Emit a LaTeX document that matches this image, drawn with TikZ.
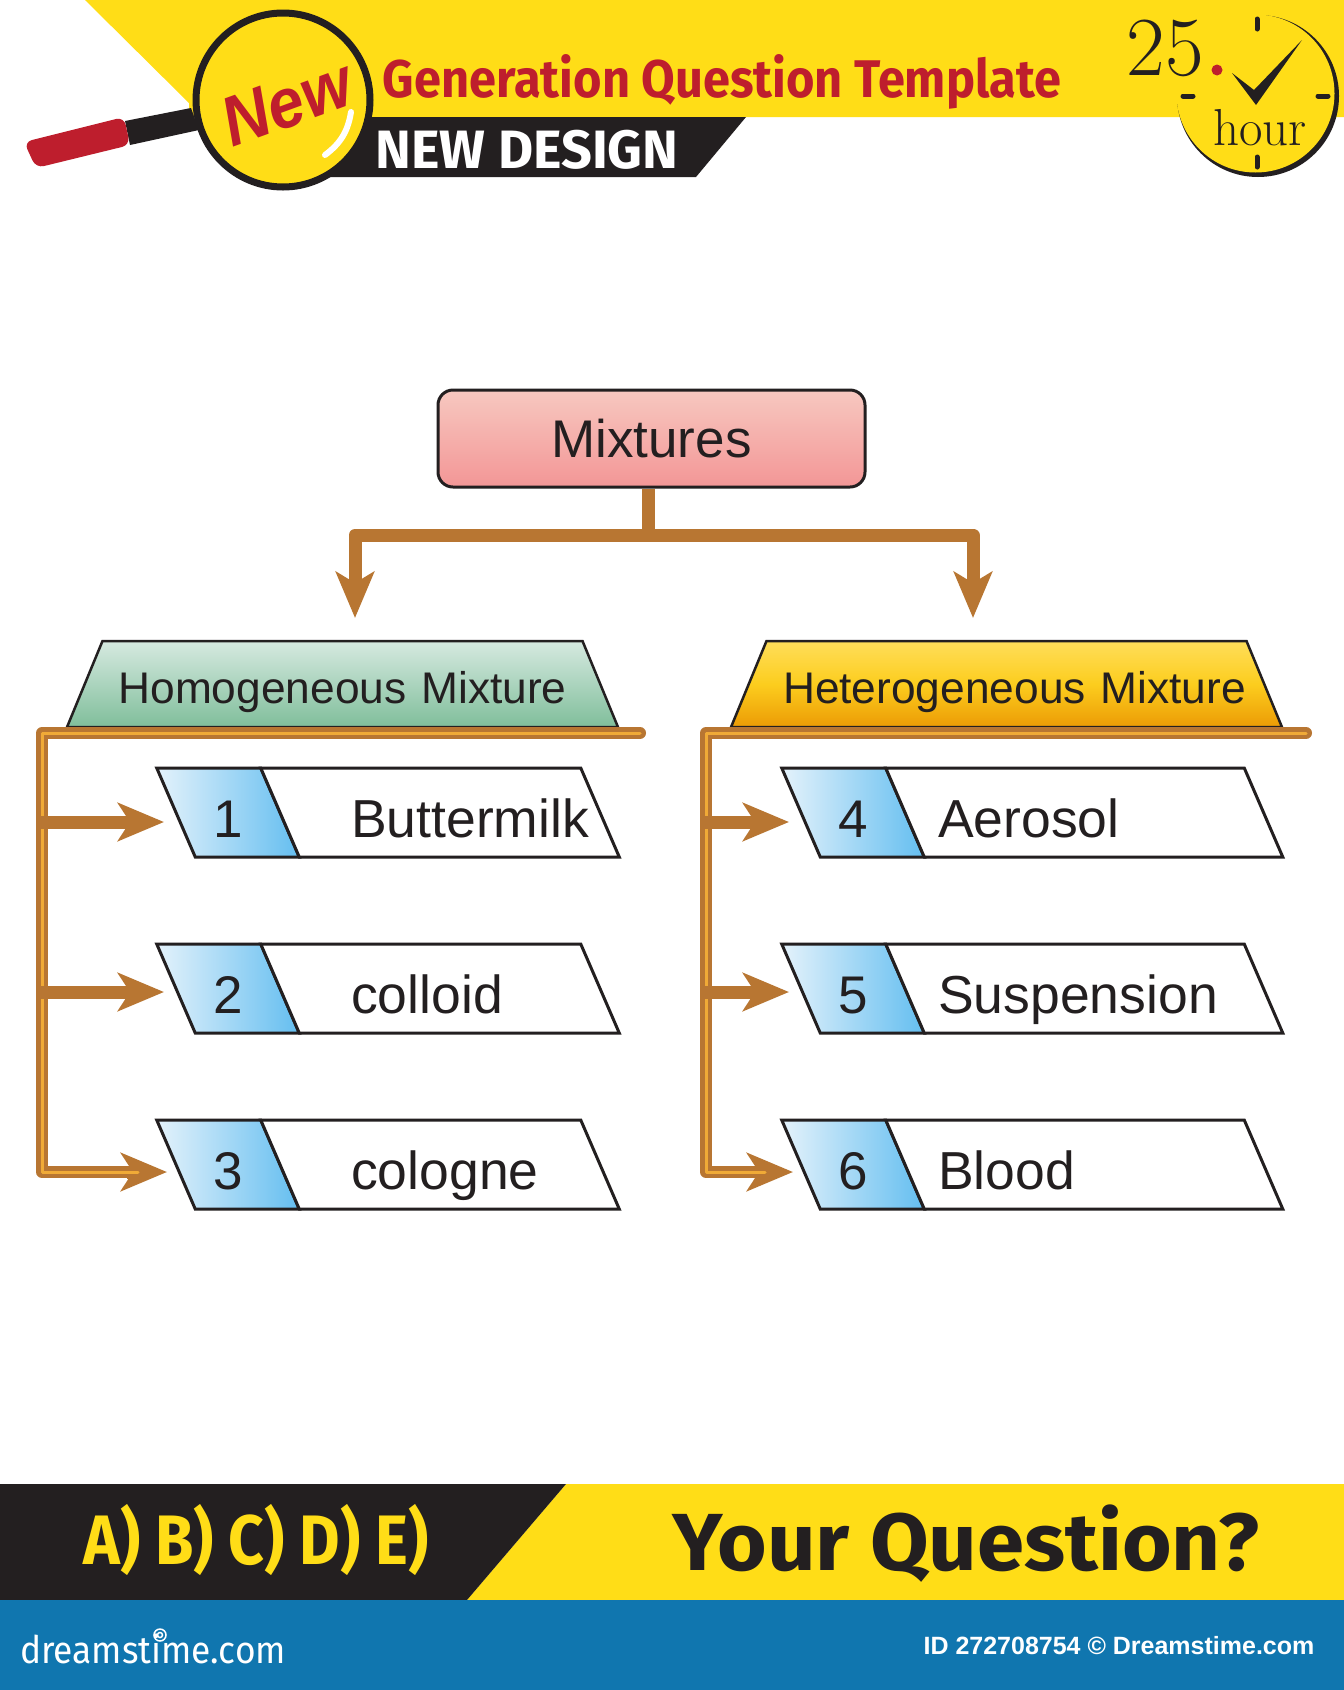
\documentclass[tikz,border=0pt]{standalone}
\usepackage{fontspec}
\usepackage{tikz}
\usetikzlibrary{arrows.meta,positioning,shapes.geometric}
\newfontfamily\arialfont{Liberation Sans}
\newfontfamily\bannerfont{Fira Sans}
\definecolor{duyellow}{RGB}{255,221,23}
\definecolor{duink}{RGB}{35,31,32}
\definecolor{dured}{RGB}{190,30,45}
\definecolor{dublue}{RGB}{16,118,175}
\definecolor{dubrown}{RGB}{184,118,50}
\definecolor{dugold}{RGB}{240,170,55}
\definecolor{softpinktop}{RGB}{247,200,192}
\definecolor{softpinkbot}{RGB}{243,150,150}
\definecolor{softgreentop}{RGB}{214,233,224}
\definecolor{softgreenbot}{RGB}{128,190,155}
\definecolor{softgoldtop}{RGB}{255,222,90}
\definecolor{softgoldmid}{RGB}{252,205,30}
\definecolor{softgoldbot}{RGB}{236,155,5}
\definecolor{softbluel}{RGB}{228,242,251}
\definecolor{softbluer}{RGB}{100,190,240}

\begin{document}
\begin{tikzpicture}[
  x=1pt,y=-1pt,
  heading/.style={trapezium,trapezium left angle=67.6,trapezium right angle=67.6,draw=duink,line width=2.5pt,text width=480pt,text height=62pt,text depth=24pt,align=center,inner sep=0pt,outer sep=0pt,text=duink,font=\arialfont\fontsize{44.3}{50}\selectfont},
  numcell/.style={trapezium,trapezium left angle=113.4,trapezium right angle=66.6,draw=duink,line width=3pt,left color=softbluel,right color=softbluer,text width=65.5pt,text height=69pt,text depth=20pt,align=center,inner sep=0pt,outer sep=0pt,text=duink,font=\arialfont\fontsize{53}{60}\selectfont},
  rowcell/.style={trapezium,trapezium left angle=113.4,trapezium right angle=66.6,draw=duink,line width=3pt,fill=white,text width=281.5pt,text height=89pt,text depth=0pt,inner sep=0pt,outer sep=0pt},
  widecell/.style={rowcell,text width=320pt},
  rowtext/.style={anchor=base west,inner sep=0pt,text=duink,font=\arialfont\fontsize{53.5}{60}\selectfont},
  trunk/.style={-{Stealth[length=46pt,width=38pt,inset=11pt]},line width=13pt,draw=dubrown,line join=round},
  rail/.style={line width=4.5pt,draw=dubrown,double=dugold,double distance=3pt,line join=round,line cap=round},
  branch/.style={-{Stealth[length=46pt,width=38pt,inset=12pt]},line width=13pt,draw=dubrown},
  banner/.style={anchor=base,inner sep=0pt,xscale=#1,transform shape},
  tick/.style={line width=5pt,draw=duink,line cap=round}
]
\useasboundingbox (0,0) rectangle (1344,1690);
\fill[white] (0,0) rectangle (1344,1690);

\fill[duyellow] (85,0) -- (1344,0) -- (1344,117) -- (189,117) -- (189,103) -- cycle;
\fill[duink] (330,117) -- (746,117) -- (696,177) -- (330,177) -- cycle;
\fill[duink] (191,108) -- (199,130) -- (130,145) -- (125,121) -- cycle;
\fill[dured,rounded corners=8pt] (24,142) -- (124,117) -- (130,145) -- (36,168) -- cycle;
\node[circle,draw=duink,fill=duyellow,line width=7pt,minimum size=174pt,inner sep=0pt] (lens) at (283,100) {};
\draw[white,line width=6pt,line cap=round] (351,112) to[bend left=22] (325,155);
\node[text=dured,inner sep=0pt,rotate=20,xscale=.92,transform shape,font=\arialfont\bfseries\itshape\fontsize{70}{80}\selectfont] (newword) at (287,103) {New};
\node[banner=.92,text=dured,font=\bannerfont\bfseries\fontsize{53}{60}\selectfont] (title) at (722,97) {Generation Question Template};
\node[banner=1,text=white,font=\bannerfont\bfseries\fontsize{54}{60}\selectfont] (design) at (527,168) {NEW DESIGN};

\fill[duink] (1258,96) circle[radius=81];
\fill[duyellow] (1255.5,93.5) circle[radius=79];
\draw[tick] (1257,19) -- (1257,29);
\draw[tick] (1318,96) -- (1328,96);
\draw[tick] (1257,157) -- (1257,167);
\draw[tick] (1183,96) -- (1193,96);
\fill[duink] (1232,73) -- (1254,90) -- (1302,40) -- (1256,105) -- cycle;
\node[banner=1,text=duink,font=\fontsize{84}{90}\selectfont\addfontfeature{FakeBold=1.5}] (count) at (1165,75) {25};
\fill[dured] (1217,70) circle[radius=5.5];
\node[banner=.98,text=duink,font=\fontsize{52}{56}\selectfont\addfontfeature{FakeBold=1}] (hour) at (1260,145) {hour};

\node[draw=duink,line width=3pt,rounded corners=15pt,top color=softpinktop,bottom color=softpinkbot,minimum width=427pt,minimum height=97pt,inner sep=0pt,text=duink,font=\arialfont\fontsize{53}{60}\selectfont] (mixtures) at (651.5,438.5) {Mixtures};
\coordinate (bus) at (648.5,535);
\coordinate (homtip) at (355,618);
\coordinate (hettip) at (973,618);
\draw[line width=13pt,draw=dubrown] (mixtures.south -| bus) -- (bus);
\draw[trunk] (bus) -| (homtip);
\draw[trunk] (bus) -| (hettip);

\node[heading,top color=softgreentop,bottom color=softgreenbot] (homog) at (342.5,684) {Homogeneous Mixture};
\node[heading,top color=softgoldtop,bottom color=softgoldbot,middle color=softgoldmid] (heterog) at (1006.5,684) {\mbox{\hspace*{16pt}Heterogeneous Mixture}};

\node[numcell] (n1) at (228,812.5) {1};
\node[rowcell,right=0pt of n1] (r1) {};
\node[numcell,below=87pt of n1] (n2) {2};
\node[rowcell,right=0pt of n2] (r2) {};
\node[numcell,below=87pt of n2] (n3) {3};
\node[rowcell,right=0pt of n3] (r3) {};
\node[numcell] (n4) at (853,812.5) {4};
\node[widecell,right=0pt of n4] (r4) {};
\node[numcell,below=87pt of n4] (n5) {5};
\node[widecell,right=0pt of n5] (r5) {};
\node[numcell,below=87pt of n5] (n6) {6};
\node[widecell,right=0pt of n6] (r6) {};
\node[rowtext] (t1) at (351,837) {Buttermilk};
\node[rowtext] (t2) at (351,1013) {colloid};
\node[rowtext] (t3) at (351,1189) {cologne};
\node[rowtext] (t4) at (938,837) {Aerosol};
\node[rowtext] (t5) at (938,1013) {Suspension};
\node[rowtext] (t6) at (938,1189) {Blood};

\coordinate (homrail) at (640,733);
\coordinate (homcorner) at (42,733);
\coordinate (homlow) at (42,1172);
\coordinate (homtail) at (138,1172);
\coordinate (hetrail) at (1306,733);
\coordinate (hetcorner) at (706,733);
\coordinate (hetlow) at (706,1172);
\coordinate (hettail) at (765,1172);
\draw[branch,shorten <=85pt] (homlow) -- (167,1172);
\draw[branch,shorten <=50pt] (hetlow) -- (793,1172);
\draw[rail] (homrail) -- (homcorner) -- (homlow) -- (homtail);
\draw[rail] (hetrail) -- (hetcorner) -- (hetlow) -- (hettail);
\draw[branch] (37,822) -- (164,822);
\draw[branch] (37,992) -- (164,992);
\draw[branch] (701,822) -- (789,822);
\draw[branch] (701,992) -- (789,992);

\fill[duyellow] (566,1484) -- (1344,1484) -- (1344,1600) -- (467,1600) -- cycle;
\fill[duink] (0,1484) -- (566,1484) -- (467,1600) -- (0,1600) -- cycle;
\fill[dublue] (0,1600) rectangle (1344,1690);
\node[banner=.89,text=duyellow,font=\bannerfont\bfseries\fontsize{70}{80}\selectfont] (answers) at (256,1564) {A) B) C) D) E)};
\node[banner=1.05,text=duink,font=\bannerfont\bfseries\fontsize{81}{90}\selectfont] (question) at (966,1570) {Your Question?};
\node[banner=.93,text=white,font=\bannerfont\fontsize{38}{42}\selectfont] (site) at (153,1663) {dreamstime.com};
\draw[white,line width=1.5pt] (160,1635) circle[radius=6];
\draw[white,line width=1.5pt] (160,1635) circle[radius=2.5];
\node[banner=1,text=white,font=\arialfont\bfseries\fontsize{25}{28}\selectfont] (credit) at (1119,1654) {ID 272708754 © Dreamstime.com};
\end{tikzpicture}
\end{document}
